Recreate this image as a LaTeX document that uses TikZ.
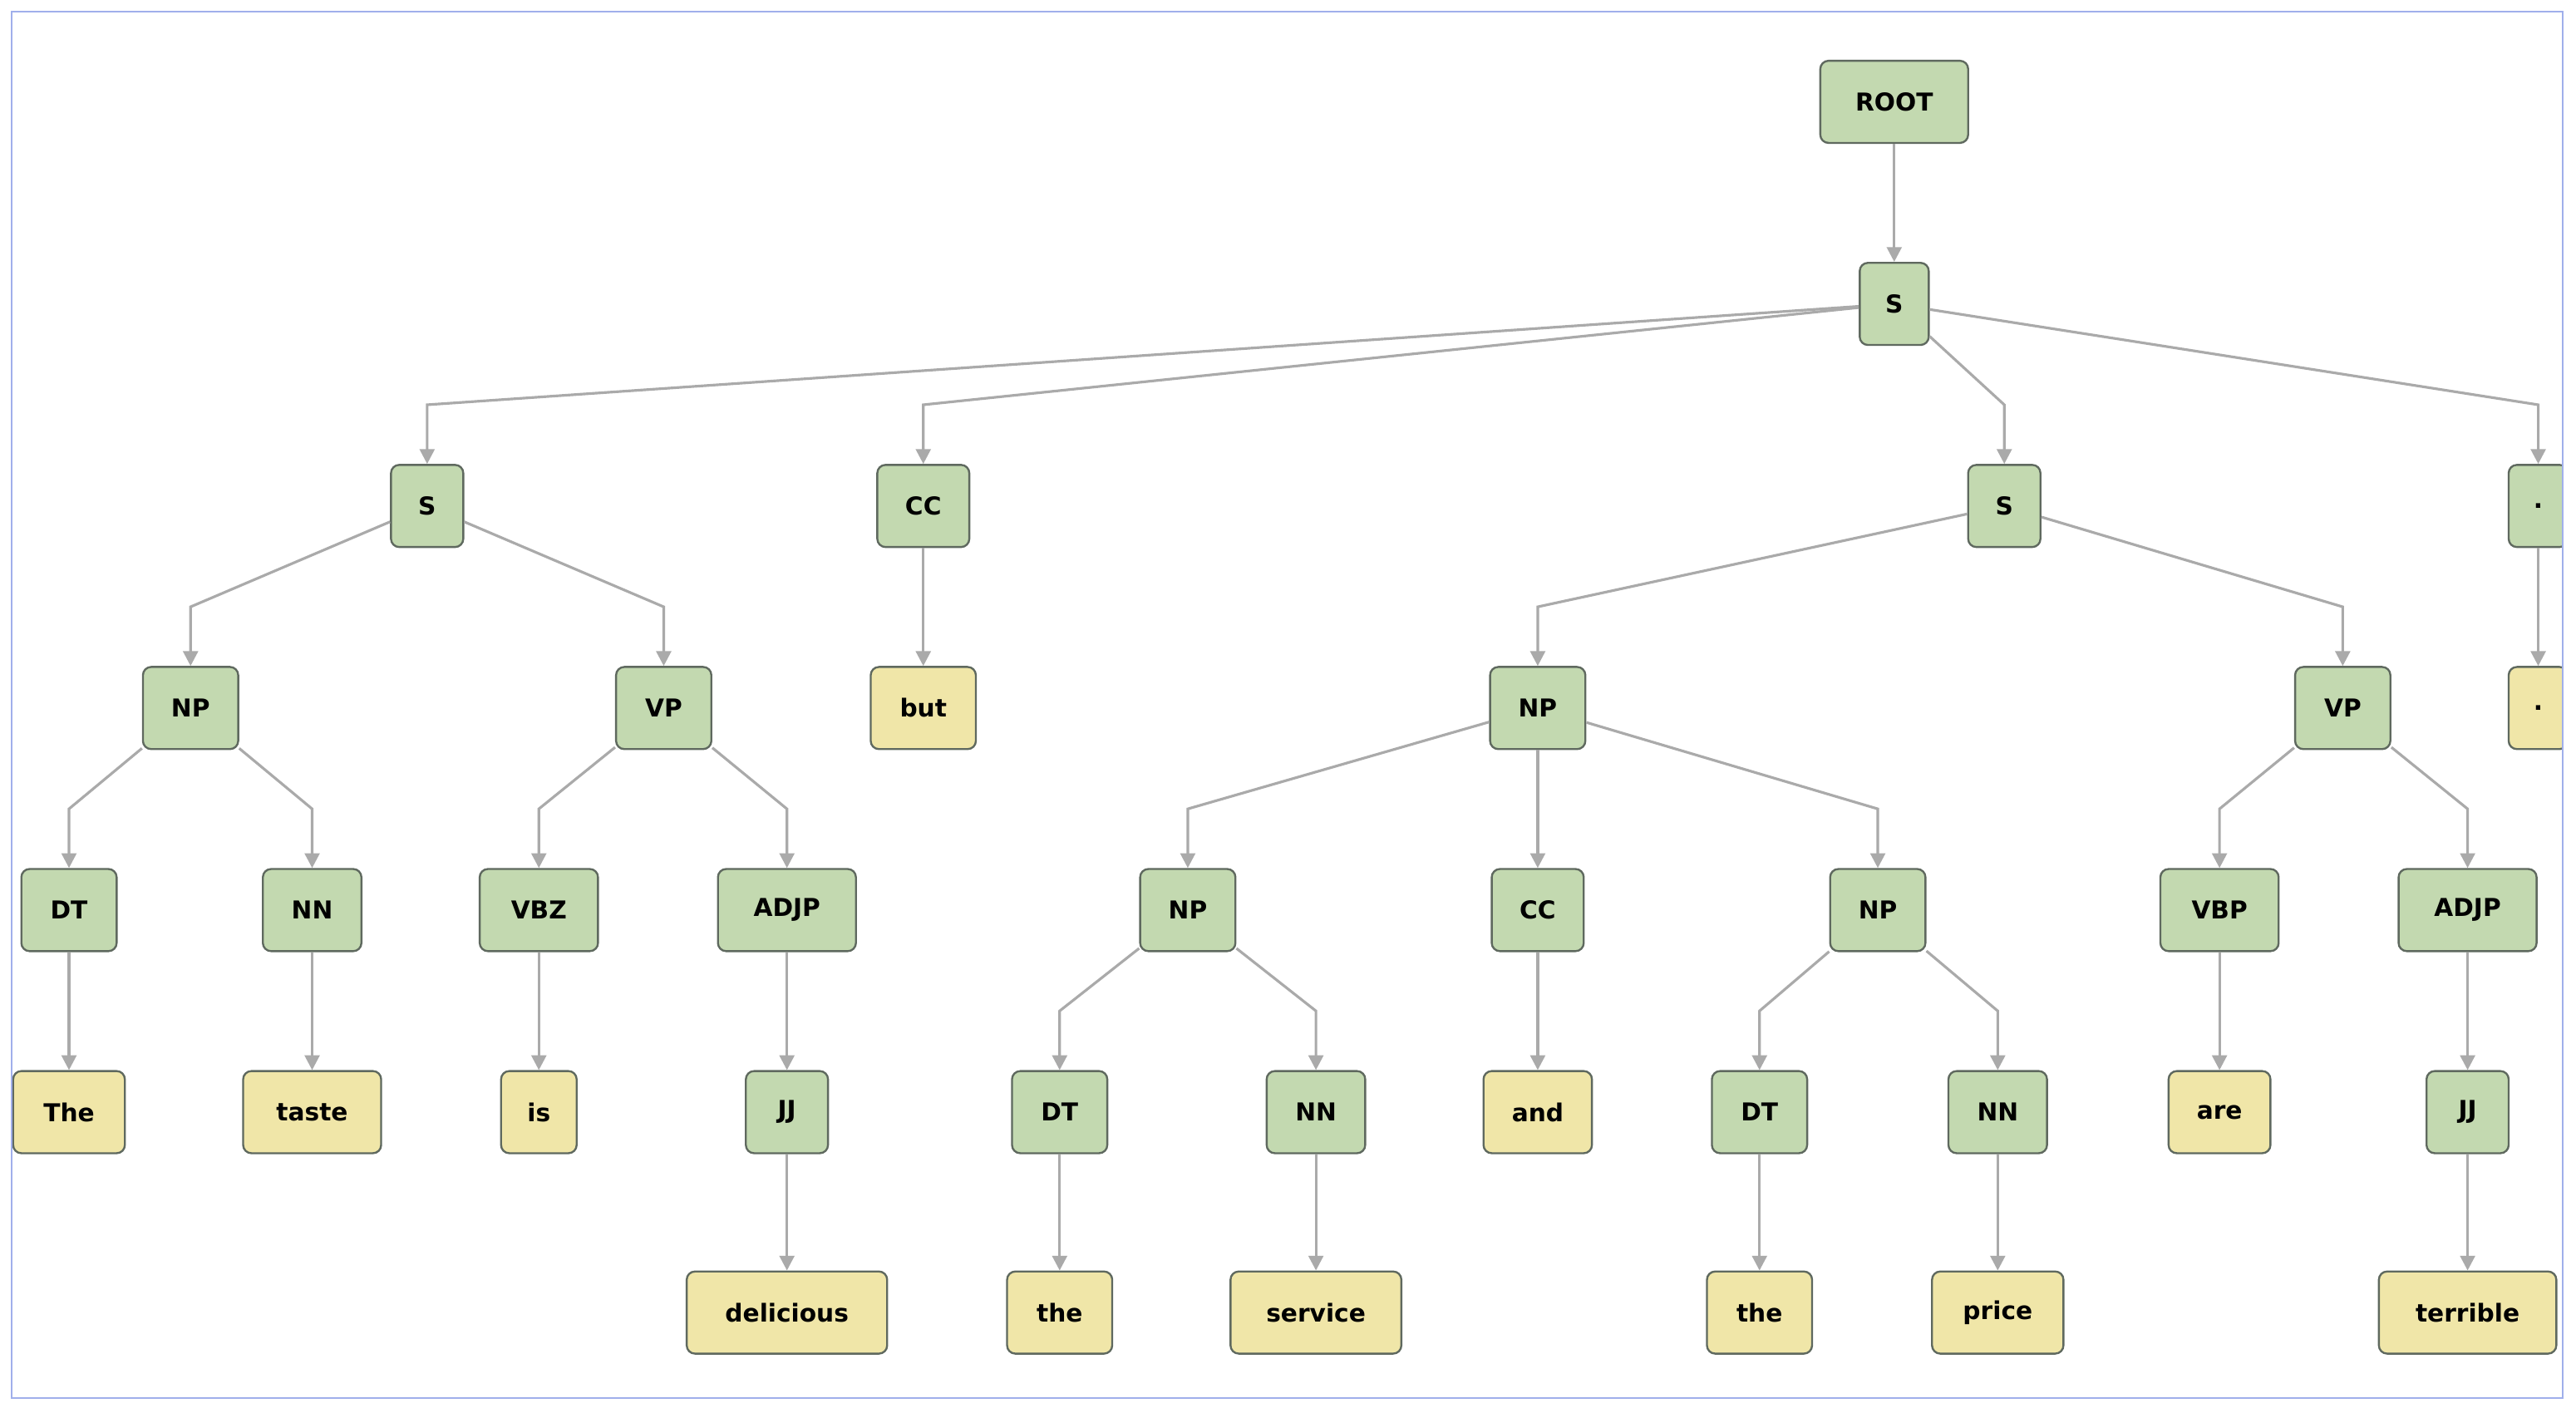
\documentclass[tikz,border=0pt]{standalone}
\usepackage{fontspec}
\setmainfont{DejaVu Sans}
\usetikzlibrary{arrows.meta}
\definecolor{gfill}{RGB}{195,217,176}
\definecolor{yfill}{RGB}{240,230,168}
\definecolor{nbord}{RGB}{95,105,95}
\definecolor{edgec}{RGB}{170,170,170}
\definecolor{framec}{RGB}{160,175,235}
\tikzset{
 base/.style={draw=nbord,line width=1.2pt,rounded corners=5pt,minimum height=50pt,inner sep=0pt,font=\fontsize{15pt}{17pt}\selectfont\bfseries,text=black},
 tag/.style={base,fill=gfill},
 word/.style={base,fill=yfill},
 conn/.style={draw=edgec,line width=1.6pt,-{Triangle[length=9pt,width=9pt]}},
}
\newcommand{\edge}[2]{\draw[conn] (#1) -- ([yshift=36pt]#2.north) -- (#2.north);}
\begin{document}
\begin{tikzpicture}[x=1pt,y=-1pt]
\useasboundingbox (0,0) rectangle (1568,857);
\fill[white] (0,0) rectangle (1568,857);
\begin{scope}
\clip (7,7) rectangle (1560,851);
\node[tag,minimum width=90pt] (root) at (1153,62) {ROOT};
\node[tag,minimum width=42pt] (s0) at (1153,185) {S};
\node[tag,minimum width=44pt] (s1) at (260,308) {S};
\node[tag,minimum width=56pt] (cc0) at (562,308) {CC};
\node[tag,minimum width=44pt] (s2) at (1220,308) {S};
\node[tag,minimum width=36pt] (dot0) at (1545,308) {.};
\node[tag,minimum width=58pt] (np1) at (116,431) {NP};
\node[tag,minimum width=58pt] (vp1) at (404,431) {VP};
\node[word,minimum width=64pt] (but) at (562,431) {but};
\node[tag,minimum width=58pt] (np2) at (936,431) {NP};
\node[tag,minimum width=58pt] (vp2) at (1426,431) {VP};
\node[word,minimum width=36pt] (dot1) at (1545,431) {.};
\node[tag,minimum width=58pt] (dt1) at (42,554) {DT};
\node[tag,minimum width=60pt] (nn1) at (190,554) {NN};
\node[tag,minimum width=72pt] (vbz) at (328,554) {VBZ};
\node[tag,minimum width=84pt] (adjp1) at (479,554) {ADJP};
\node[tag,minimum width=58pt] (np3) at (723,554) {NP};
\node[tag,minimum width=56pt] (cc1) at (936,554) {CC};
\node[tag,minimum width=58pt] (np4) at (1143,554) {NP};
\node[tag,minimum width=72pt] (vbp) at (1351,554) {VBP};
\node[tag,minimum width=84pt] (adjp2) at (1502,554) {ADJP};
\node[word,minimum width=68pt] (the1) at (42,677) {The};
\node[word,minimum width=84pt] (taste) at (190,677) {taste};
\node[word,minimum width=46pt] (is) at (328,677) {is};
\node[tag,minimum width=50pt] (jj1) at (479,677) {JJ};
\node[tag,minimum width=58pt] (dt2) at (645,677) {DT};
\node[tag,minimum width=60pt] (nn2) at (801,677) {NN};
\node[word,minimum width=66pt] (and) at (936,677) {and};
\node[tag,minimum width=58pt] (dt3) at (1071,677) {DT};
\node[tag,minimum width=60pt] (nn3) at (1216,677) {NN};
\node[word,minimum width=62pt] (are) at (1351,677) {are};
\node[tag,minimum width=50pt] (jj2) at (1502,677) {JJ};
\node[word,minimum width=122pt] (delicious) at (479,799) {delicious};
\node[word,minimum width=64pt] (the2) at (645,799) {the};
\node[word,minimum width=104pt] (service) at (801,799) {service};
\node[word,minimum width=64pt] (the3) at (1071,799) {the};
\node[word,minimum width=80pt] (price) at (1216,799) {price};
\node[word,minimum width=108pt] (terrible) at (1502,799) {terrible};
\edge{root}{s0}
\edge{s0}{s1}\edge{s0}{cc0}\edge{s0}{s2}\edge{s0}{dot0}
\edge{s1}{np1}\edge{s1}{vp1}\edge{cc0}{but}
\edge{s2}{np2}\edge{s2}{vp2}\edge{dot0}{dot1}
\edge{np1}{dt1}\edge{np1}{nn1}\edge{vp1}{vbz}\edge{vp1}{adjp1}
\edge{np2}{np3}\edge{np2}{cc1}\edge{np2}{np4}
\edge{vp2}{vbp}\edge{vp2}{adjp2}
\edge{dt1}{the1}\edge{nn1}{taste}\edge{vbz}{is}\edge{adjp1}{jj1}
\edge{np3}{dt2}\edge{np3}{nn2}\edge{cc1}{and}
\edge{np4}{dt3}\edge{np4}{nn3}\edge{vbp}{are}\edge{adjp2}{jj2}
\edge{jj1}{delicious}\edge{dt2}{the2}\edge{nn2}{service}
\edge{dt3}{the3}\edge{nn3}{price}\edge{jj2}{terrible}
\end{scope}
\draw[framec,line width=1.2pt] (7,7) rectangle (1560,851);
\end{tikzpicture}
\end{document}
